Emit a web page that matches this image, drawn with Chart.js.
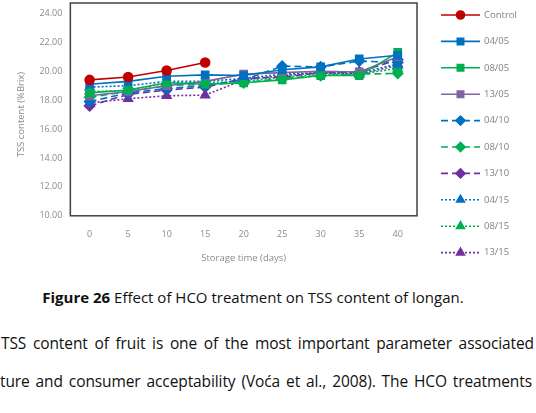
<!DOCTYPE html>
<html>
<head>
<meta charset="utf-8">
<script src="https://cdn.jsdelivr.net/npm/chart.js@4/dist/chart.umd.min.js"></script>
<style>
  body { margin: 0; background: #fff; width: 536px; height: 413px; overflow: hidden; position: relative; font-family: "Open Sans", "Noto Sans", sans-serif; }
  #chartBox { position: absolute; left: 0; top: 0; width: 536px; height: 268px; }
  #caption { position: absolute; left: 0; width: 506px; top: 287px; text-align: center; font-size: 15px; color: #111; }
  .para { position: absolute; left: 1px; width: 533px; font-size: 15.5px; letter-spacing: -0.1px; color: #111;
          text-align: justify; text-align-last: justify; }
</style>
</head>
<body>
<div id="chartBox"><canvas id="tssChart"></canvas></div>
<div id="caption"><b>Figure 26</b> Effect of HCO treatment on TSS content of longan.</div>
<div class="para" style="top:332px">TSS content of fruit is one of the most important parameter associated</div>
<div class="para" style="top:370px;left:0;width:532px">ture and consumer acceptability (Voća et al., 2008). The HCO treatments</div>
<script>
// storage days
const days = ["0", "5", "10", "15", "20", "25", "30", "35", "40"];

// TSS (%Brix)
const control = [19.4, 19.6, 20.05, 20.6];
const t0405 = [19.1, 19.3, 19.65, 19.75, 19.7, 20.1, 20.3, 20.85, 21.1];
const t0805 = [18.5, 18.7, 19.2, 19.1, 19.2, 19.4, 19.7, 19.7, 21.3];
const t1305 = [18.3, 18.6, 19.0, 19.3, 19.8, 19.9, 20.0, 19.95, 21.0];
const t0410 = [17.9, 18.5, 18.8, 19.0, 19.4, 20.35, 20.3, 20.7, 20.6];
const t0810 = [18.2, 18.6, 19.0, 19.1, 19.2, 19.5, 19.7, 19.8, 19.85];
const t1310 = [17.6, 18.4, 18.7, 18.9, 19.5, 19.6, 19.9, 19.95, 20.8];
const t0415 = [18.9, 19.0, 19.3, 19.3, 19.5, 19.8, 19.9, 19.9, 20.5];
const t0815 = [18.6, 18.65, 19.2, 19.2, 19.3, 19.6, 19.8, 19.8, 20.2];
const t1315 = [17.8, 18.1, 18.3, 18.35, 19.4, 19.7, 19.9, 19.8, 20.4];

const yTicks = [10, 12, 14, 16, 18, 20, 22, 24];

const RED = "#C00000", BLUE = "#0070C0", GREEN = "#00B050", LILAC = "#8064A2", PURPLE = "#7030A0";
const DASH = [7, 4], DOT = [2, 2];

Chart.defaults.font.family = '"Open Sans", "Noto Sans", sans-serif';

function series(label, data, color, style, dash, radius) {
  return {
    label: label,
    data: data,
    borderColor: color,
    backgroundColor: color,
    pointStyle: style,
    pointRadius: radius,
    pointHoverRadius: radius,
    borderWidth: 1.6,
    borderDash: dash,
    tension: 0,
  };
}

const datasets = [
  series("Control", control, RED, "circle", [], 4.5),
  series("04/05", t0405, BLUE, "rect", [], 5),
  series("08/05", t0805, GREEN, "rect", [], 5),
  series("13/05", t1305, LILAC, "rect", [], 5),
  series("04/10", t0410, BLUE, "rectRot", DASH, 5),
  series("08/10", t0810, GREEN, "rectRot", DASH, 5),
  series("13/10", t1310, PURPLE, "rectRot", DASH, 5),
  series("04/15", t0415, BLUE, "triangle", DOT, 5),
  series("08/15", t0815, GREEN, "triangle", DOT, 5),
  series("13/15", t1315, PURPLE, "triangle", DOT, 5),
];

// frame around the plot (it reaches a bit above 24.00) + line-and-marker legend
const frameAndLegend = {
  id: "frameAndLegend",
  afterDraw(chart) {
    const ctx = chart.ctx;
    const a = chart.chartArea;
    ctx.save();
    ctx.strokeStyle = "#404040";
    ctx.lineWidth = 1.5;
    ctx.strokeRect(a.left, 3, a.right - a.left, a.bottom - 3);

    const x0 = 441, x1 = 480, top = 15, gap = 26.4;
    chart.data.datasets.forEach((ds, i) => {
      const y = top + i * gap;
      ctx.strokeStyle = ds.borderColor;
      ctx.fillStyle = ds.backgroundColor;
      ctx.lineWidth = 1.6;
      ctx.setLineDash(ds.borderDash);
      ctx.beginPath();
      ctx.moveTo(x0, y);
      ctx.lineTo(x1, y);
      ctx.stroke();
      ctx.setLineDash([]);
      Chart.helpers.drawPoint(ctx, { pointStyle: ds.pointStyle, radius: ds.pointRadius - 0.5, borderWidth: 1 }, (x0 + x1) / 2, y);
      ctx.fillStyle = "#808080";
      ctx.font = '9.5px "Open Sans", sans-serif';
      ctx.textBaseline = "middle";
      ctx.fillText(ds.label, 484, y);
    });
    ctx.restore();
  },
};

new Chart(document.getElementById("tssChart"), {
  type: "line",
  data: { labels: days, datasets: datasets },
  options: {
    responsive: true,
    maintainAspectRatio: false,
    animation: false,
    layout: { padding: { top: 11, right: 119, left: 12, bottom: 0 } },
    plugins: {
      legend: { display: false },
      tooltip: { enabled: false },
    },
    scales: {
      x: {
        type: "category",
        offset: true,
        grid: { display: false, drawTicks: false },
        border: { display: false },
        ticks: { color: "#8a8a8a", font: { size: 9 }, padding: 13 },
        title: { display: true, text: "Storage time (days)", color: "#8a8a8a", font: { size: 9.5 }, padding: { top: 0 } },
      },
      y: {
        min: 10,
        max: 24,
        afterBuildTicks(axis) { axis.ticks = yTicks.map((v) => ({ value: v })); },
        grid: { display: false, drawTicks: false },
        border: { display: false },
        ticks: { color: "#8a8a8a", font: { size: 9 }, padding: 8, callback: (v) => v.toFixed(2) },
        title: { display: true, text: "TSS content (%Brix)", color: "#8a8a8a", font: { size: 9.5 }, padding: { bottom: 4 } },
      },
    },
  },
  plugins: [frameAndLegend],
});
</script>
</body>
</html>
